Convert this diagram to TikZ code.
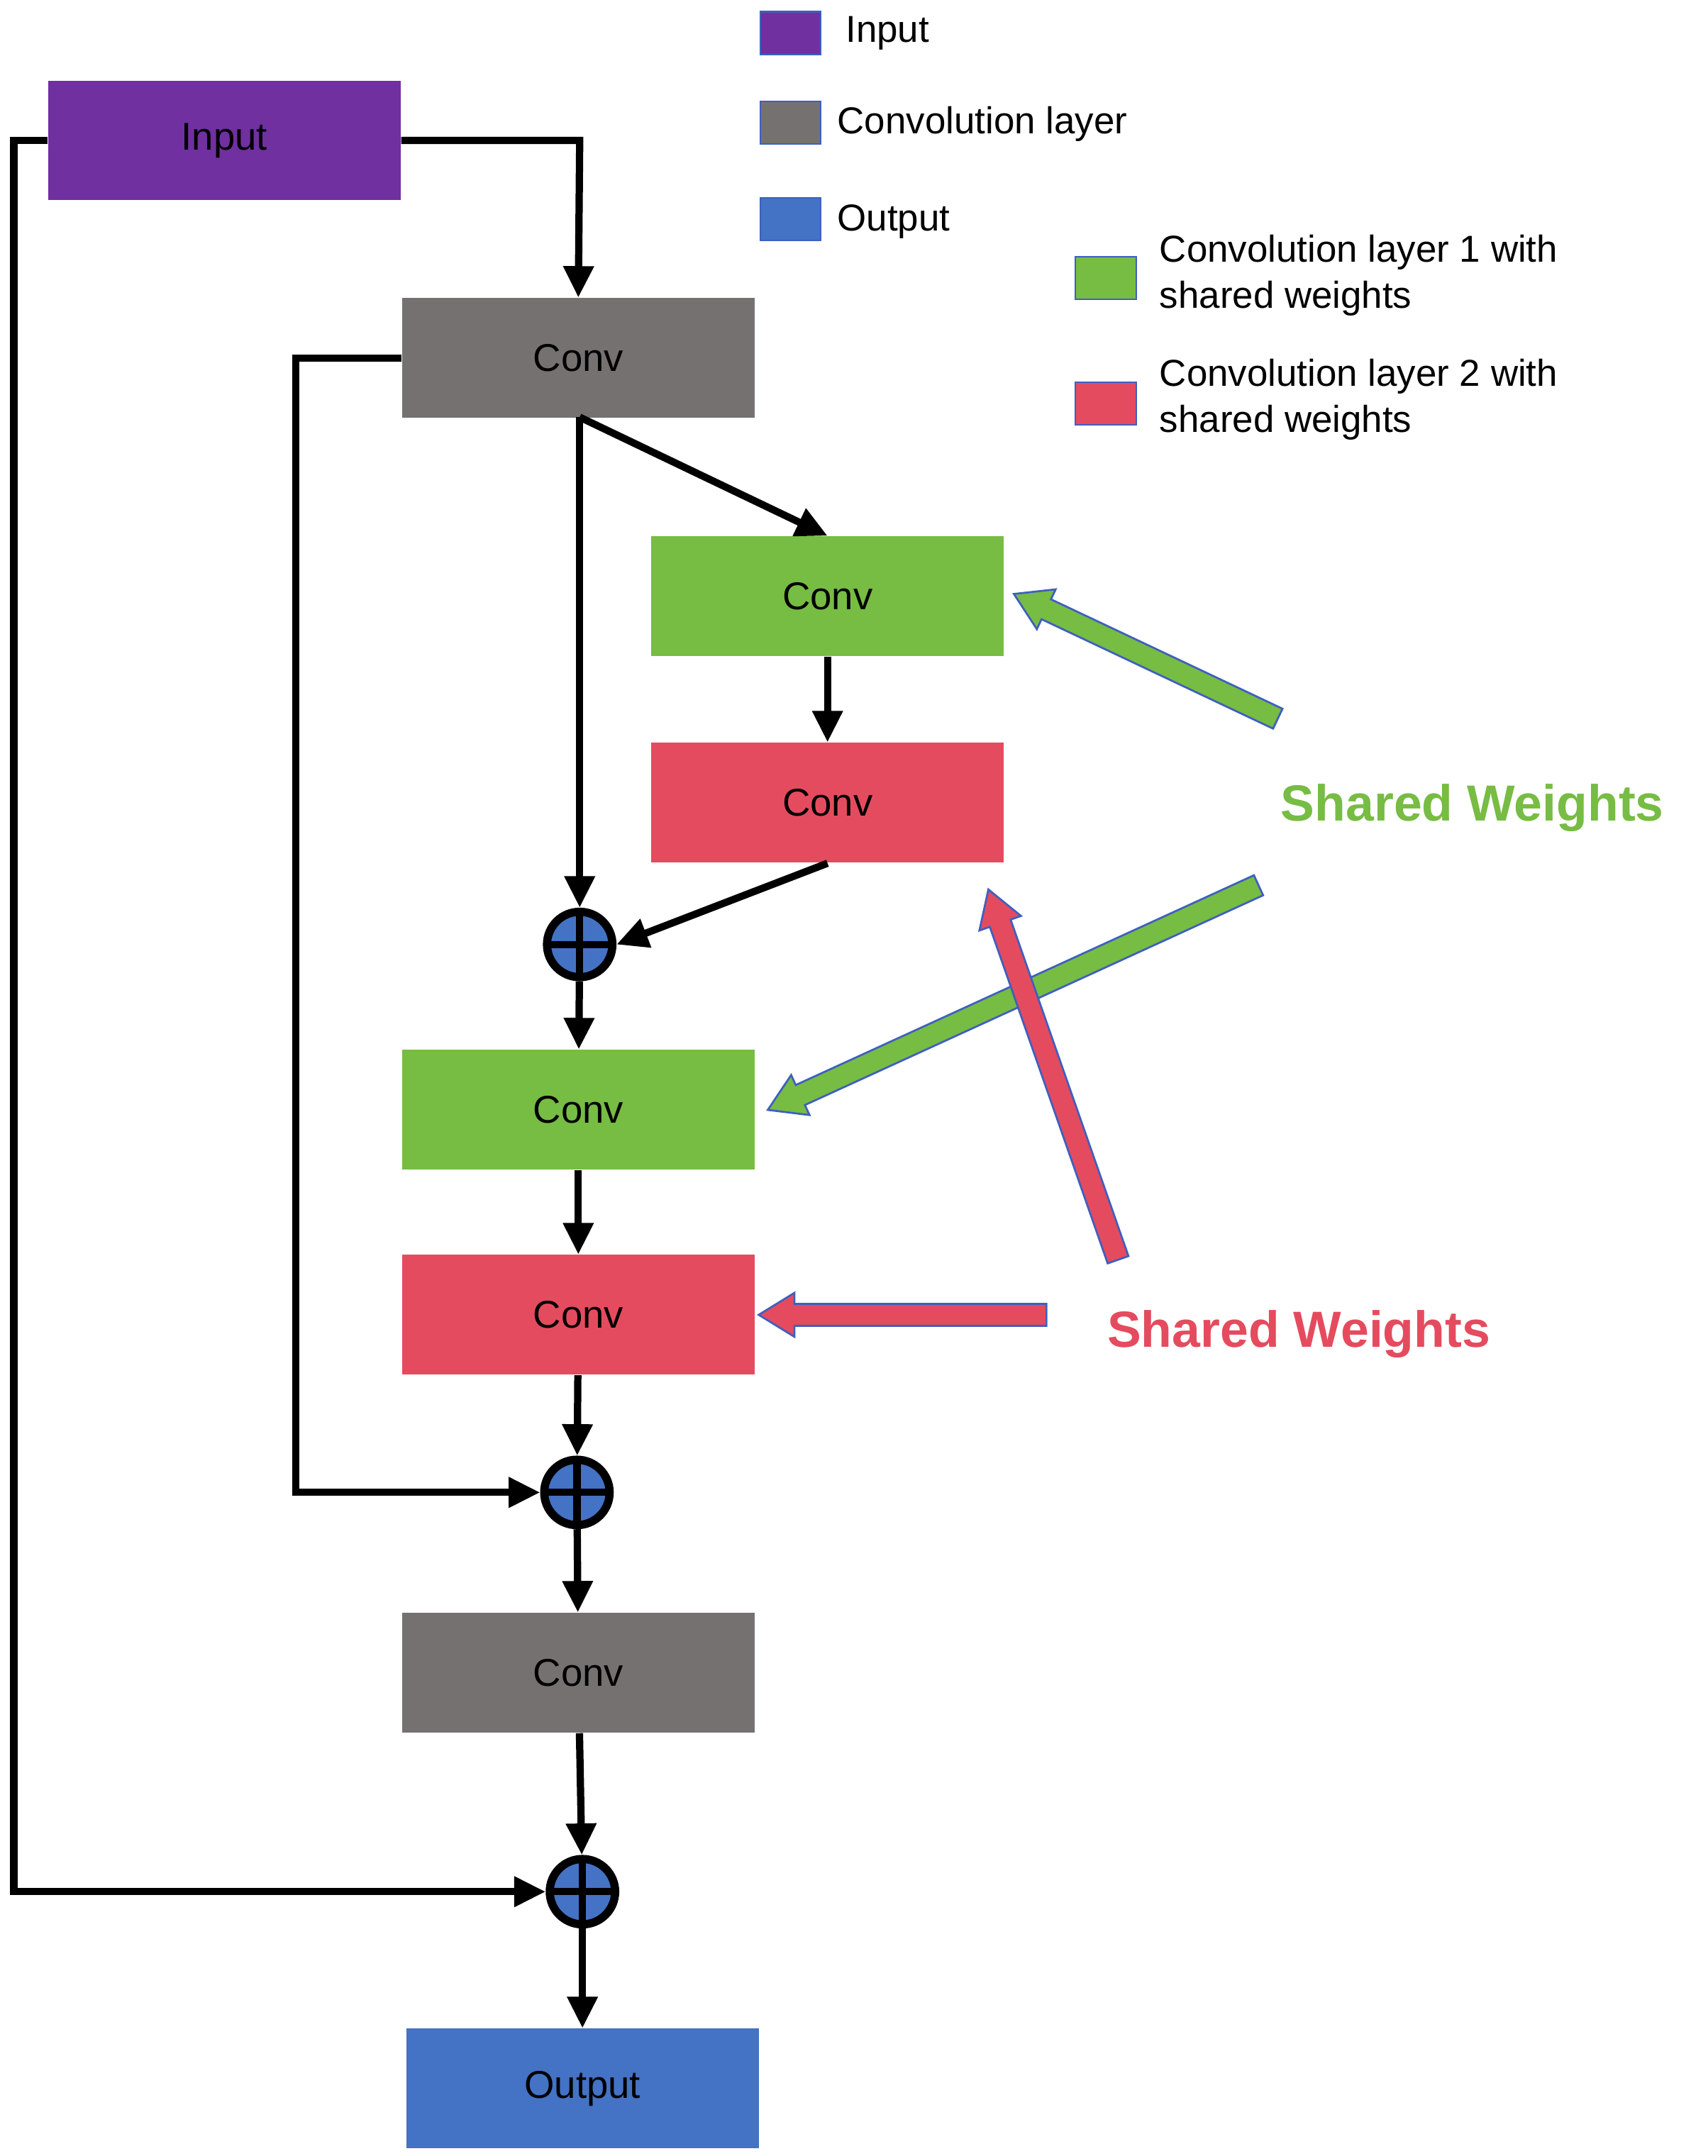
\documentclass[tikz,border=0pt]{standalone}
\usepackage{fontspec}
\setmainfont{Liberation Sans}
\usetikzlibrary{arrows.meta}
\definecolor{cpurple}{HTML}{7030A0}
\definecolor{cgray}{HTML}{767171}
\definecolor{cgreen}{HTML}{77BC43}
\definecolor{cred}{HTML}{E54B5E}
\definecolor{cblue}{HTML}{4472C4}
\definecolor{coutl}{HTML}{3F5FBF}
\newcommand\blkarrow[5]{%
  \begin{scope}[shift={(#1,#2)},rotate=#3]
  \draw[fill=#5,draw=coutl,line width=0.8pt] (0,-8) -- (#4-26,-8) -- (#4-26,-16) -- (#4,0) -- (#4-26,16) -- (#4-26,8) -- (0,8) -- cycle;
  \end{scope}}
\begin{document}
\begin{tikzpicture}[x=0.02cm,y=-0.02cm,
  blk/.style={minimum width=5.12cm,minimum height=1.74cm,inner sep=0pt,font=\fontsize{16}{18}\selectfont},
  con/.style={line width=3pt,-{Triangle[length=13pt,width=12pt]}},
  lin/.style={line width=3pt},
  plus/.style={circle,fill=cblue,draw=black,line width=3.4pt,minimum size=0.95cm,inner sep=0pt,
    path picture={\draw[line width=3pt] (path picture bounding box.north) -- (path picture bounding box.south) (path picture bounding box.west) -- (path picture bounding box.east);}},
  leg/.style={minimum width=0.88cm,minimum height=0.62cm,inner sep=0pt,draw=coutl,line width=0.6pt},
  ltxt/.style={anchor=west,font=\fontsize{15.5}{19}\selectfont,align=left}]
\useasboundingbox (0,0) rectangle (1240,1566);
% boxes
\node[blk,fill=cpurple] (in) at (163,102) {Input};
\node[blk,fill=cgray] (c1) at (420,260) {Conv};
\node[blk,fill=cgreen] (g1) at (601,433) {Conv};
\node[blk,fill=cred] (r1) at (601,583) {Conv};
\node[plus] (p1) at (421,686) {};
\node[blk,fill=cgreen] (g2) at (420,806) {Conv};
\node[blk,fill=cred] (r2) at (420,955) {Conv};
\node[plus] (p2) at (419,1084) {};
\node[blk,fill=cgray] (c2) at (420,1215) {Conv};
\node[plus] (p3) at (423,1374) {};
\node[blk,fill=cblue] (out) at (423,1517) {Output};
% connectors
\coordinate (a1) at (421,102);
\coordinate (a2) at (10,102);
\coordinate (a3) at (10,1374);
\coordinate (b1) at (215,260);
\coordinate (b2) at (215,1084);
\coordinate (cs) at (421,303);
\coordinate (rs) at (601,627);
\draw[con] (in.east) -- (a1) -- (c1.north);
\draw[con] (in.west) -- (a2) -- (a3) -- (p3.west);
\draw[con] (c1.west) -- (b1) -- (b2) -- (p2.west);
\draw[con] (cs) -- (p1.north);
\draw[con] (cs) -- (g1.north);
\draw[con] (g1) -- (r1);
\draw[con] (rs) -- (p1.east);
\draw[con] (p1) -- (g2);
\draw[con] (g2) -- (r2);
\draw[con] (r2) -- (p2);
\draw[con] (p2) -- (c2);
\draw[con] (c2) -- (p3);
\draw[con] (p3) -- (out);
% block arrows
\blkarrow{928}{522}{154.7}{212}{cgreen}
\blkarrow{914}{643}{204.6}{392}{cgreen}
\blkarrow{812}{915}{109.3}{285}{cred}
\blkarrow{760}{955}{180}{209}{cred}
\node[anchor=west,text=cgreen,font=\bfseries\fontsize{21}{24}\selectfont] (sw1) at (924,587) {Shared Weights};
\node[anchor=west,text=cred,font=\bfseries\fontsize{21}{24}\selectfont] (sw2) at (798,969) {Shared Weights};
% legend
\node[leg,fill=cpurple] (l1) at (574,24) {};
\node[ltxt] at (608,24) {Input};
\node[leg,fill=cgray] (l2) at (574,89) {};
\node[ltxt] at (602,90) {Convolution layer};
\node[leg,fill=cblue] (l3) at (574,159) {};
\node[ltxt] at (602,161) {Output};
\node[leg,fill=cgreen] (l4) at (803,202) {};
\node[ltxt] at (836,200) {Convolution layer 1 with\\shared weights};
\node[leg,fill=cred] (l5) at (803,293) {};
\node[ltxt] at (836,290) {Convolution layer 2 with\\shared weights};
\end{tikzpicture}
\end{document}
